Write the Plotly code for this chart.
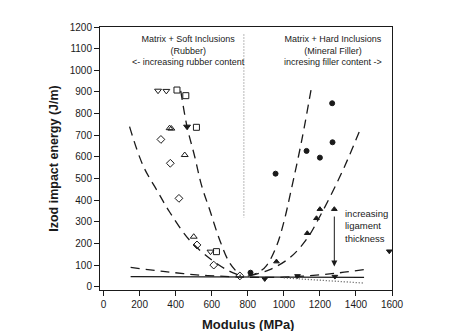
import plotly.graph_objects as go

# ---- data ----
# rubber-toughened (soft inclusions) points
tri_down_open_x = [302, 348, 593]
tri_down_open_y = [906, 905, 163]
square_open_x = [407, 456, 515, 626]
square_open_y = [909, 883, 737, 163]
tri_up_open_x = [366, 376, 450, 500]
tri_up_open_y = [733, 731, 609, 232]
diamond_open_x = [318, 370, 418, 518, 611, 756]
diamond_open_y = [681, 571, 409, 194, 101, 51]
tri_down_fill_left_x = [463]
tri_down_fill_left_y = [740]

# mineral filler (hard inclusions) points
circle_fill_x = [815, 954, 1126, 1200, 1268, 1270]
circle_fill_y = [66, 523, 628, 597, 848, 668]
tri_up_fill_x = [959, 1130, 1181, 1200, 1280]
tri_up_fill_y = [117, 248, 317, 359, 359]
tri_down_fill_x = [894, 1076, 1283, 1585]
tri_down_fill_y = [37, 51, 48, 165]

# trend curves
outer_left_x = [144, 219, 300, 367, 478, 607, 700, 770]
outer_left_y = [740, 560, 440, 345, 215, 120, 72, 50]
inner_left_x = [428, 463, 506, 543, 589, 644, 700, 760]
inner_left_y = [905, 740, 600, 470, 355, 217, 110, 52]
steep_right_x = [800, 860, 905, 960, 1000, 1040, 1100, 1154]
steep_right_y = [50, 68, 100, 190, 300, 445, 680, 925]
mild_right_x = [811, 922, 1033, 1126, 1209, 1300, 1360, 1425]
mild_right_y = [52, 80, 135, 220, 340, 490, 600, 730]
bottom_dash_x = [150, 330, 515, 700, 800, 1000, 1107, 1283, 1445]
bottom_dash_y = [90, 72, 56, 48, 45, 45, 50, 63, 80]
solid_x = [150, 1445]
solid_y = [48, 44]
dotted_x = [1000, 1445]
dotted_y = [42, 18]
divider_x = [778, 778]
divider_y = [1165, 320]

x_ticks = [0, 200, 400, 600, 800, 1000, 1200, 1400, 1600]
y_ticks = [0, 100, 200, 300, 400, 500, 600, 700, 800, 900, 1000, 1100, 1200]

INK = "#1a1a1a"
FONT = "Liberation Sans, Arial, sans-serif"

fig = go.Figure()

def curve(x, y, dash, width=1.3, color=INK, shape="spline"):
    fig.add_trace(go.Scatter(x=x, y=y, mode="lines", line=dict(color=color, width=width, dash=dash, shape=shape),
                             hoverinfo="skip", showlegend=False))

curve(outer_left_x, outer_left_y, "9px,6px")
curve(inner_left_x, inner_left_y, "9px,6px")
curve(steep_right_x, steep_right_y, "9px,6px")
curve(mild_right_x, mild_right_y, "9px,6px")
curve(bottom_dash_x, bottom_dash_y, "9px,6px")
curve(solid_x, solid_y, "solid", shape="linear")
curve(dotted_x, dotted_y, "1px,2px", color="#555555", shape="linear")
curve(divider_x, divider_y, "1px,2px", color="#888888", width=1.2, shape="linear")

def pts(x, y, symbol, size=6):
    fig.add_trace(go.Scatter(x=x, y=y, mode="markers",
                             marker=dict(symbol=symbol, size=size, color=INK,
                                         line=dict(color=INK, width=1)),
                             hoverinfo="skip", showlegend=False))

pts(tri_down_open_x, tri_down_open_y, "triangle-down-open")
pts(square_open_x, square_open_y, "square-open")
pts(tri_up_open_x, tri_up_open_y, "triangle-up-open")
pts(diamond_open_x, diamond_open_y, "diamond-open")
pts(tri_down_fill_left_x, tri_down_fill_left_y, "triangle-down")
pts(circle_fill_x, circle_fill_y, "circle", 5)
pts(tri_up_fill_x, tri_up_fill_y, "triangle-up", 5)
pts(tri_down_fill_x, tri_down_fill_y, "triangle-down", 5)

fig.add_annotation(x=470, y=1178, xref="x", yref="y", yanchor="top", showarrow=False,
                   text="Matrix + Soft Inclusions<br>(Rubber)<br>&lt;- increasing rubber content",
                   font=dict(family=FONT, size=9, color=INK), align="center")
fig.add_annotation(x=1270, y=1178, xref="x", yref="y", yanchor="top", showarrow=False,
                   text="Matrix + Hard Inclusions<br>(Mineral Filler)<br>incresing filler content -&gt;",
                   font=dict(family=FONT, size=9, color=INK), align="center")
fig.add_annotation(x=1330, y=375, xref="x", yref="y", xanchor="left", yanchor="top", showarrow=False,
                   text="increasing<br>ligament<br>thickness",
                   font=dict(family=FONT, size=9.5, color=INK), align="left")
fig.add_annotation(x=1280, y=94, ax=1280, ay=332, xref="x", yref="y", axref="x", ayref="y",
                   text="", showarrow=True, arrowhead=2, arrowsize=1.2, arrowwidth=1, arrowcolor=INK)
# x-axis title (placed low, as in the reference where it touches the bottom edge)
fig.add_annotation(x=800, y=-0.13, xref="x", yref="paper", yanchor="middle", showarrow=False,
                   text="<b>Modulus (MPa)</b>", font=dict(family=FONT, size=13, color=INK))

fig.update_layout(
    width=474, height=331,
    margin=dict(l=100, r=82, t=27, b=41),
    paper_bgcolor="white", plot_bgcolor="white",
    font=dict(family=FONT, color=INK, size=10),
    xaxis=dict(range=[-20, 1600], tickvals=x_ticks, ticktext=[str(v) for v in x_ticks],
               showgrid=False, zeroline=False, showline=True, linecolor=INK, linewidth=1,
               mirror=True, ticks="outside", ticklen=5, tickcolor=INK, automargin=False),
    yaxis=dict(range=[-14, 1200], tickvals=y_ticks, ticktext=[str(v) for v in y_ticks],
               showgrid=False, zeroline=False, showline=True, linecolor=INK, linewidth=1,
               mirror=True, ticks="outside", ticklen=5, tickcolor=INK, automargin=False,
               title=dict(text="<b>Izod impact energy (J/m)</b>", font=dict(size=12.5), standoff=8)),
)

fig.write_html("out.html")
